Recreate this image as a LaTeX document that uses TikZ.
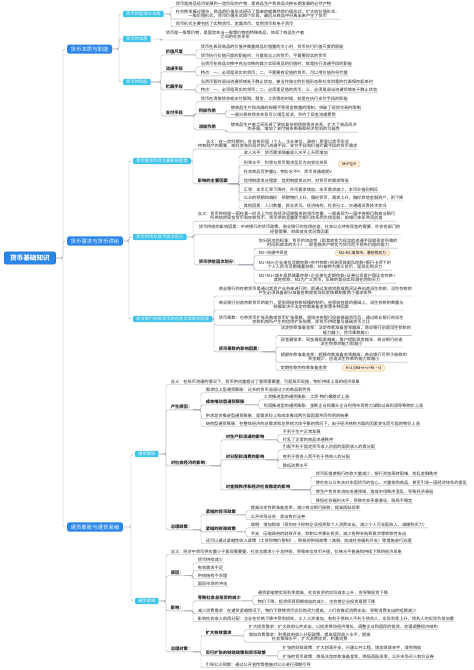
\documentclass[tikz,border=0pt]{standalone}
\usepackage{fontspec}
\setmainfont{Noto Sans CJK SC}
\usetikzlibrary{calc}
\definecolor{rootblue}{HTML}{2A86E6}
\definecolor{subcyan}{HTML}{3EC3EA}
\definecolor{linegray}{HTML}{9AA4AE}
\definecolor{notefill}{HTML}{FDEED9}
\definecolor{noteline}{HTML}{F2B46C}
% connector from a box, and from a text topic (with underline)
\newcommand{\boxlink}[2]{\draw[conn] (#1) -- ($(#1 -| #2.west)+(-4,0)$) |- (#2.west);}
\newcommand{\textlink}[2]{\draw[conn] (#1) -- ($(#1 -| #2.west)+(-4,0)$) |- (#2.south west) -- (#2.south east);}

\begin{document}
\begin{tikzpicture}[x=1pt,y=-1pt,
  root/.style={fill=rootblue,draw=rootblue!80!black,line width=.3pt,rounded corners=2pt,text=white,font=\fontsize{6.6}{7}\selectfont\bfseries,inner xsep=6pt,inner ysep=3pt,anchor=west},
  topic/.style={fill=rootblue,rounded corners=1.5pt,text=white,font=\fontsize{5.4}{6}\selectfont,inner xsep=3.5pt,inner ysep=2pt,anchor=west},
  sub/.style={fill=subcyan,rounded corners=1pt,text=white,font=\fontsize{4.3}{5}\selectfont,inner xsep=3pt,inner ysep=1.2pt,anchor=west},
  lab/.style={text=black!85,font=\fontsize{4.3}{5}\selectfont\bfseries,inner sep=.6pt,anchor=west},
  leaf/.style={text=black!85,font=\fontsize{4.2}{4.6}\selectfont,inner sep=.6pt,anchor=west,align=center},
  note/.style={fill=notefill,draw=noteline,line width=.3pt,rounded corners=3pt,font=\fontsize{3.8}{4}\selectfont,inner xsep=4pt,inner ysep=1.2pt,anchor=west},
  conn/.style={draw=linegray,line width=.35pt,rounded corners=2pt}]

 \path[use as bounding box,fill=white] (0,0) rectangle (474,670);

 %% Root and main topics
 \path (4,258) node(root)[root] {货币基础知识};
 \path (67,49) node(tEssence)[topic] {货币本质与职能};
 \path (67,241) node(tSupply)[topic] {货币需求与货币供给};
 \path (67,527) node(tInfl)[topic] {通货膨胀与通货紧缩};

 %% Subtopics
 \path (123,14) node(sOrigin)[sub] {货币的起源与本质};
 \path (123,39) node(sNature)[sub] {货币的本质};
 \path (123,82) node(sFunc)[sub] {货币的职能};
 \path (133,161) node(sDemand)[sub] {货币需求及其主要影响因素};
 \path (133,237) node(sSupply)[sub] {货币供给与货币层次划分};
 \path (133,319) node(sBank)[sub] {商业银行存款货币的创造及其影响因素};
 \path (135,454) node(sInfl)[sub] {通货膨胀};
 \path (135,601) node(sDefl)[sub] {通货紧缩};

 %% 货币的起源与本质
 \path (175,4) node(o1)[leaf] {货币是商品经济发展到一定阶段的产物，是商品生产和商品交换长期发展的必然产物};
 \path (175,14) node(o2)[leaf] {在交换发展过程中，商品的价值形式经历了简单的或偶然的价值形式、扩大的价值形式、\\一般价值形式、货币价值形式四个阶段，最后从商品中分离出来产生了货币};
 \path (175,24) node(o3)[leaf] {货币形式主要包括了实物货币、金属货币、信用货币和电子货币};
 \path (165,35) node(n1)[leaf] {货币是一般等价物，是固定充当一般等价物的特殊商品，体现了商品生产者\\之间的社会关系};

 %% 货币的职能
 \path (165,52) node(fMeasure)[lab] {价值尺度};
 \path (165,69) node(fMedium)[lab] {流通手段};
 \path (165,87) node(fStore)[lab] {贮藏手段};
 \path (165,113) node(fPay)[lab] {支付手段};
 \path (200,47) node(m1)[leaf] {货币在表现商品的价值并衡量商品价值量的大小时，货币执行价值尺度的职能};
 \path (200,56) node(m2)[leaf] {货币执行价值尺度的职能时，只需观念上的货币，不需要现实的货币};
 \path (200,64) node(c1)[leaf] {当货币在商品交换中充当交换的媒介实现商品的价值时，就是执行流通手段的职能};
 \path (200,73) node(c2)[leaf] {特点：一、必须是现实的货币；二、不需要有足值的货币，可以用价值符号代替};
 \path (200,82) node(s1)[leaf] {当货币暂时退出流通领域处于静止状态，被当作独立的价值形态和社会财富的代表保存起来时};
 \path (200,90) node(s2)[leaf] {特点：一、必须是现实的货币；二、必须是足值的货币；三、必须是退出流通领域处于静止状态};
 \path (200,99) node(p1)[leaf] {货币在清偿债务或支付赋税、租金、工资等的时候，就是在执行支付手段的职能};
 \path (198,111) node(pPos)[lab] {积极作用};
 \path (198,127) node(pNeg)[lab] {消极作用};
 \path (230,108) node(pp1)[leaf] {使商品生产和流通的规模不受现金数量的限制，突破了现货交易的限制};
 \path (230,115) node(pp2)[leaf] {一部分债权债务关系可以相互抵消，节约了现金流通费用};
 \path (230,127) node(pn1)[leaf] {使商品生产者之间形成了更加复杂的债权债务关系，扩大了商品经济\\的矛盾，增加了支付链条断裂和经济危机的可能性};

 %% 货币需求
 \path (197,144) node(d1)[leaf] {含义：在一定时期内，社会各阶层（个人、企业单位、政府）愿意以货币形式\\持有财产的需要，或社会各阶层对执行流通手段、支付手段和价值贮藏手段的货币需求};
 \path (197,181) node(dFactor)[lab] {影响的主要因素};
 \path (243,153) node(df1)[leaf] {收入水平：货币需求随着收入水平上升而增加};
 \path (243,163) node(df2)[leaf] {利率水平：利率与货币需求呈反方向变动关系};
 \path (243,172) node(df3)[leaf] {社会商品可供量Q、物价水平P、货币流通速度V};
 \path (243,181) node(df4)[leaf] {信用制度发达程度：信用制度发达时，对货币的需求降低};
 \path (243,190) node(df5)[leaf] {汇率：本币汇率下降时，外币需求增加，本币需求减少，本币升值则相反};
 \path (243,198) node(df6)[leaf] {公众的预期和偏好：预期物价上升、偏好货币，需求上升；偏好其他金融资产，则下降};
 \path (243,206) node(df7)[leaf] {其他因素：人口数量、就业状况、经济结构、社会分工、交通通讯等技术状况};
 \path (338,164) node(nPQ)[note] {M=PQ/V};

 %% 货币供给
 \path (197,216) node(u1)[leaf] {含义：货币供给是一国在某一时点上为社会经济运转服务的货币存量，一般表现为一国中央银行和商业银行\\所供给的现金货币和存款货币，货币供给总量即为银行体系的负债总额，由银行体系共同创造};
 \path (198,229.5) node(u2)[leaf] {货币供给的影响因素：中央银行的货币政策、商业银行的信用创造、社会公众持有现金的需要、社会各部门的\\经营需要、财政收支状况等因素};
 \path (198,262) node(uLevel)[lab] {货币供给层次划分：};
 \path (258,243) node(ul1)[leaf] {划分层次的标准：货币的流动性（即其转变为现实的流通手段或现金所需的\\时间和成本的大小），即金融资产转化为货币而不损失价值的能力};
 \path (258,253) node(ul2)[leaf] {M0=流通中现金};
 \path (258,265) node(ul3)[leaf] {M1=M0+企业单位活期存款+农村存款+机关团体部队存款+银行卡项下的\\个人人民币活期储蓄存款，M1被称为狭义货币，是现实购买力};
 \path (258,278) node(ul4)[leaf] {M2=M1+城乡居民储蓄存款+企业单位定期存款+证券公司客户保证金存款+\\其他存款，M2为广义货币，反映的是现实和潜在的购买力};
 \path (335,253) node(nM2)[note] {M2-M1 准货币，潜在购买力};

 %% 商业银行存款货币
 \path (218,291) node(b1)[leaf] {商业银行的存款货币是通过其资产业务来进行的，即通过发放贷款或购买证券创造派生存款，派生存款的\\产生必须具备部分准备金制度和非现金结算制度两个基本条件};
 \path (218,305) node(b2)[leaf] {商业银行创造存款货币的能力，受到原始存款规模的制约，在原始存款的基础上，派生存款的数量与\\规模取决于法定存款准备金率等多种因素};
 \path (218,320) node(b3)[leaf] {货币乘数：也称货币扩张系数或货币扩张乘数，是指中央银行投放基础货币后，通过商业银行的派生\\存款机制所产生的信用扩张倍数，即货币供给量与基础货币之比};
 \path (218,349) node(bMult)[lab] {货币乘数的影响因素：};
 \path (280,330.5) node(bm1)[leaf] {法定存款准备金率：法定存款准备金率越高，商业银行创造派生存款的\\能力越小，货币乘数越小};
 \path (280,342) node(bm2)[leaf] {现金漏损率：现金漏损率越高，客户提取现金越多，商业银行创造\\派生存款的能力就越小};
 \path (280,357) node(bm3)[leaf] {超额存款准备金率：超额存款准备金率越高，商业银行可用于放款的\\资金越少，创造派生存款的能力就越小};
 \path (280,368) node(bm4)[leaf] {定期存款的存款准备金率};
 \path (342,368) node(nK)[note] {K=1/(Rd+e+c+Rt·t)};

 %% 通货膨胀
 \path (170,382) node(i1)[leaf] {含义：在纸币流通的情况下，货币供应量超过了客观需要量，引起纸币贬值，物价持续上涨的经济现象};
 \path (170,407) node(iCause)[lab] {产生原因：};
 \path (205,390) node(ic1)[leaf] {需求拉上型通货膨胀：过多的货币追逐过少的商品和劳务};
 \path (205,402) node(icCost)[lab] {成本推动型通货膨胀};
 \path (263,397) node(icc1)[leaf] {工资推进型的通货膨胀：工资-物价螺旋式上涨};
 \path (263,406) node(icc2)[leaf] {利润推进型的通货膨胀：垄断企业和寡头企业利用市场势力谋取过高利润导致物价上涨};
 \path (205,416) node(ic3)[leaf] {供求混合推进型通货膨胀：是需求拉上和成本推动两方面因素共同作用的结果};
 \path (205,424) node(ic4)[leaf] {结构型通货膨胀：在整体经济的总需求和总供给大体平衡的情况下，由于经济结构方面的因素变化而引起的物价上涨};
 \path (170,463) node(iEffect)[lab] {对社会经济的影响：};
 \path (225,437) node(ieProd)[lab] {对生产和流通的影响};
 \path (282,432) node(iep1)[leaf] {不利于生产正常发展};
 \path (282,440) node(iep2)[leaf] {打乱了正常的商品流通秩序};
 \path (225,457) node(ieDist)[lab] {对分配和消费的影响};
 \path (282,447) node(ied1)[leaf] {引起不利于固定货币收入阶层的国民收入的再分配};
 \path (282,457) node(ied2)[leaf] {有利于债务人而不利于债权人的分配};
 \path (282,466) node(ied3)[leaf] {降低消费水平};
 \path (225,487) node(ieFin)[lab] {对金融秩序和经济社会稳定的影响};
 \path (315,474) node(ief1)[leaf] {货币贬值使银行存款大量减少，银行资金周转困难，扰乱金融秩序};
 \path (315,483) node(ief2)[leaf] {使社会公众失去对本国货币的信心，大量抢购商品，甚至引发一国经济体系的紊乱};
 \path (315,492) node(ief3)[leaf] {使生产性资本流向流通领域，造成市场秩序混乱，导致经济衰退};
 \path (315,501) node(ief4)[leaf] {降低社会福利水平，导致社会矛盾激化，政局不稳定};
 \path (170,527) node(iPolicy)[lab] {治理政策：};
 \path (205,512) node(ipMon)[lab] {紧缩的货币政策};
 \path (250,508) node(ipm1)[leaf] {提高法定存款准备金率，减少商业银行放款，提高再贴现率};
 \path (250,517) node(ipm2)[leaf] {公开市场业务：卖出有价证券};
 \path (205,529) node(ipFis)[lab] {紧缩的财政政策};
 \path (250,525) node(ipf1)[leaf] {增税：增加税收（目的在于抑制企业投资和个人消费支出，减少个人可支配收入，减缓购买力）};
 \path (250,534) node(ipf2)[leaf] {节支：压缩政府的财政开支，抑制公共事业投资，减少各种补贴和救济等转移性支出};
 \path (205,541) node(ip3)[leaf] {还可以通过紧缩性收入政策（工资和物价管制）、积极的供给政策（减税、削减社会福利开支）等措施进行治理};

 %% 通货紧缩
 \path (170,552) node(e1)[leaf] {含义：经济中货币供应量少于客观需要量，社会总需求小于总供给，导致单位货币升值，价格水平普遍和持续下降的经济现象};
 \path (170,573) node(eCause)[lab] {原因：};
 \path (197,560) node(dc1)[leaf] {货币供给减少};
 \path (197,567.5) node(dc2)[leaf] {有效需求不足};
 \path (197,576) node(dc3)[leaf] {供给结构不合理};
 \path (197,584) node(dc4)[leaf] {国际市场的冲击};
 \path (170,608) node(eEffect)[lab] {影响：};
 \path (197,598) node(eeInv)[lab] {导致社会总投资的减少};
 \path (257,593) node(eei1)[leaf] {通货紧缩使实际利率提高，社会投资的实际成本上升，会导致投资下降};
 \path (257,602) node(eei2)[leaf] {物价下降，投资项目预期收益的减少，也会使企业投资意愿下降};
 \path (197,611) node(ee2)[leaf] {减少消费需求：在通货紧缩情况下，物价下跌使货币实际购买力提高，人们会推迟消费支出，导致消费支出的短期减少};
 \path (197,619) node(ee3)[leaf] {影响社会收入的再分配：企业在价格下降中受到损失，工人工资增加，有利于债权人不利于债务人，实际利率上升，债务人的实际负担加重};
 \path (170,649) node(eCure)[lab] {治理对策：};
 \path (205,633) node(ecDem)[lab] {扩大有效需求};
 \path (248,627) node(ecd1)[leaf] {扩大投资需求：扩大政府公共支出，以投资带动经济增长，调整企业和居民的投资，合理调整经济结构};
 \path (248,637) node(ecd2)[leaf] {增加消费需求：利用政府收入分配政策，提高居民收入水平，提高\\社会保障水平，扩大消费信贷，刺激消费};
 \path (205,653) node(ecPol)[lab] {实行扩张的财政政策和货币政策};
 \path (282,648) node(ecp1)[leaf] {扩张的财政政策：扩大财政开支，兴建公共工程，增加财政赤字，减免税收};
 \path (282,657) node(ecp2)[leaf] {扩张的货币政策：降低法定存款准备金率，降低再贴现率，公开市场买入有价证券};
 \path (205,665) node(ecGuide)[leaf] {引导公众预期：通过公开宣传等措施对公众进行预期引导};

 %% Connectors
 \foreach \c in {tEssence,tSupply,tInfl} {\boxlink{root.east}{\c}}
 \foreach \c in {sOrigin,sNature,sFunc} {\boxlink{tEssence.east}{\c}}
 \foreach \c in {sDemand,sSupply,sBank} {\boxlink{tSupply.east}{\c}}
 \foreach \c in {sInfl,sDefl} {\boxlink{tInfl.east}{\c}}
 \foreach \c in {o1,o2,o3} {\textlink{sOrigin.east}{\c}}
 \textlink{sNature.east}{n1}
 \foreach \c in {fMeasure,fMedium,fStore,fPay} {\textlink{sFunc.east}{\c}}
 \foreach \c in {m1,m2} {\textlink{fMeasure.south east}{\c}}
 \foreach \c in {c1,c2} {\textlink{fMedium.south east}{\c}}
 \foreach \c in {s1,s2} {\textlink{fStore.south east}{\c}}
 \foreach \c in {p1,pPos,pNeg} {\textlink{fPay.south east}{\c}}
 \foreach \c in {pp1,pp2} {\textlink{pPos.south east}{\c}}
 \textlink{pNeg.south east}{pn1}
 \foreach \c in {d1,dFactor} {\textlink{sDemand.east}{\c}}
 \foreach \c in {df1,df2,df3,df4,df5,df6,df7} {\textlink{dFactor.south east}{\c}}
 \foreach \c in {u1,u2,uLevel} {\textlink{sSupply.east}{\c}}
 \foreach \c in {ul1,ul2,ul3,ul4} {\textlink{uLevel.south east}{\c}}
 \foreach \c in {b1,b2,b3,bMult} {\textlink{sBank.east}{\c}}
 \foreach \c in {bm1,bm2,bm3,bm4} {\textlink{bMult.south east}{\c}}
 \foreach \c in {i1,iCause,iEffect,iPolicy} {\textlink{sInfl.east}{\c}}
 \foreach \c in {ic1,icCost,ic3,ic4} {\textlink{iCause.south east}{\c}}
 \foreach \c in {icc1,icc2} {\textlink{icCost.south east}{\c}}
 \foreach \c in {ieProd,ieDist,ieFin} {\textlink{iEffect.south east}{\c}}
 \foreach \c in {iep1,iep2} {\textlink{ieProd.south east}{\c}}
 \foreach \c in {ied1,ied2,ied3} {\textlink{ieDist.south east}{\c}}
 \foreach \c in {ief1,ief2,ief3,ief4} {\textlink{ieFin.south east}{\c}}
 \foreach \c in {ipMon,ipFis,ip3} {\textlink{iPolicy.south east}{\c}}
 \foreach \c in {ipm1,ipm2} {\textlink{ipMon.south east}{\c}}
 \foreach \c in {ipf1,ipf2} {\textlink{ipFis.south east}{\c}}
 \foreach \c in {e1,eCause,eEffect,eCure} {\textlink{sDefl.east}{\c}}
 \foreach \c in {dc1,dc2,dc3,dc4} {\textlink{eCause.south east}{\c}}
 \foreach \c in {eeInv,ee2,ee3} {\textlink{eEffect.south east}{\c}}
 \foreach \c in {eei1,eei2} {\textlink{eeInv.south east}{\c}}
 \foreach \c in {ecDem,ecPol,ecGuide} {\textlink{eCure.south east}{\c}}
 \foreach \c in {ecd1,ecd2} {\textlink{ecDem.south east}{\c}}
 \foreach \c in {ecp1,ecp2} {\textlink{ecPol.south east}{\c}}
\end{tikzpicture}
\end{document}
